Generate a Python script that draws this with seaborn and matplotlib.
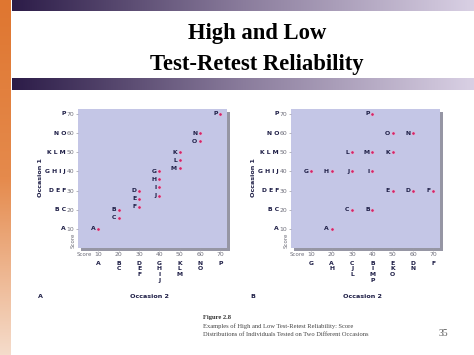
import numpy as np
import matplotlib
matplotlib.use("Agg")
import matplotlib.pyplot as plt
from matplotlib.colors import LinearSegmentedColormap
from matplotlib.patches import Rectangle
import pandas as pd
import seaborn as sns

sns.set_theme(style="white")
plt.rcParams["font.family"] = ["DejaVu Sans"]

students = list("ABCDEFGHIJKLMNOP")
scores = [10, 20, 30, 40, 50, 60, 70]

# panel A - high reliability (same score on both occasions)
occ1_a = [10, 20, 20, 30, 30, 30, 40, 40, 40, 40, 50, 50, 50, 60, 60, 70]
occ2_a = [10, 20, 20, 30, 30, 30, 40, 40, 40, 40, 50, 50, 50, 60, 60, 70]

# panel B - low reliability
occ1_b = [10, 20, 20, 30, 30, 30, 40, 40, 40, 40, 50, 50, 50, 60, 60, 70]
occ2_b = [20, 40, 30, 60, 50, 70, 10, 20, 40, 30, 50, 30, 40, 60, 50, 40]

title_lines = ["High and Low", "Test-Retest Reliability"]
caption = ["Figure 2.8",
           "Examples of High and Low Test-Retest Reliability: Score",
           "Distributions of Individuals Tested on Two Different Occasions"]

BG = "#c4c6e6"
DOT = "#d0246a"
INK = "#1e1e46"
GREY = "#6e6e7a"
W, H = 474, 355

fig = plt.figure(figsize=(W / 100, H / 100), dpi=100)
fig.patch.set_facecolor("white")

# background layer in pixel coords (origin top-left)
bg = fig.add_axes([0, 0, 1, 1], zorder=-1)
bg.axis("off")

purple = LinearSegmentedColormap.from_list("p", ["#2c1c48", "#8a7c9c", "#d9d0e4"])
orange = LinearSegmentedColormap.from_list("o", ["#df7630", "#e58a4c", "#f5dccb"])
grad = np.linspace(0, 1, 256)[None, :]
for y0, y1 in [(0, 11), (78, 90)]:
    bg.imshow(grad, cmap=purple, aspect="auto", extent=(12, W, y1, y0))
bg.imshow(grad.T, cmap=orange, aspect="auto", extent=(0, 11, H, 0))
bg.set_xlim(0, W)
bg.set_ylim(H, 0)

bg.text(257, 39.5, title_lines[0], ha="center", va="baseline", fontsize=16.3,
        fontweight="bold", family="Liberation Serif", color="black")
bg.text(257, 70, title_lines[1], ha="center", va="baseline", fontsize=16.3,
        fontweight="bold", family="Liberation Serif", color="black")

bg.text(203, 318, caption[0], ha="left", va="center", fontsize=4.7,
        fontweight="bold", family="Liberation Serif", color="#333333")
bg.text(203, 326, caption[1], ha="left", va="center", fontsize=4.7,
        family="Liberation Serif", color="#444444")
bg.text(203, 334, caption[2], ha="left", va="center", fontsize=4.7,
        family="Liberation Serif", color="#444444")
bg.text(443, 334, "35", ha="center", va="center", fontsize=7,
        family="Liberation Serif", color="#555555")

panels = [
    (78, occ1_a, occ2_a, True, "A"),
    (291, occ1_b, occ2_b, False, "B"),
]
top, bottom = 109, 248

for left, occ1, occ2, stacked, tag in panels:
    width = 149
    # drop shadow
    bg.add_patch(Rectangle((left + 3, top + 3), width, bottom - top,
                           facecolor="#9696a4", edgecolor="none"))
    ax = fig.add_axes([left / W, (H - bottom) / H, width / W, (bottom - top) / H])

    df = pd.DataFrame({"student": students, "occ1": occ1, "occ2": occ2})
    if stacked:
        df["y"] = df["occ1"] - df.groupby("occ1").cumcount() * 4.2
    else:
        df["y"] = df["occ1"]

    sns.scatterplot(data=df, x="occ2", y="y", ax=ax, s=5, color=DOT,
                    edgecolor="#f0b8d0", linewidth=0.3, zorder=3)
    for _, r in df.iterrows():
        ax.annotate(r["student"], (r["occ2"], r["y"]), xytext=(-2.0, 0),
                    textcoords="offset points", ha="right", va="center",
                    fontsize=4.4, fontweight="bold", color=INK)

    ax.set_xlim(0, 73.2)
    ax.set_ylim(0, 72.6)
    ax.set_facecolor(BG)
    for s in ax.spines.values():
        s.set_visible(False)
    ax.set_xlabel("")
    ax.set_ylabel("")
    ax.set_xticks(scores)
    ax.set_yticks(scores)
    ax.set_xticklabels([str(v) for v in scores])
    ax.set_yticklabels([str(v) for v in scores])
    ax.tick_params(axis="both", length=1.8, width=0.5, color="#9a9aa6",
                   labelsize=4.4, labelcolor=GREY, pad=0.8,
                   bottom=True, left=True)

    # letter groups beside the score ticks
    ygroups = df.groupby("occ1")["student"].apply(lambda s: " ".join(sorted(s)))
    for v, txt in ygroups.items():
        ax.text(-0.08, v, txt, transform=ax.get_yaxis_transform(), ha="right",
                va="center", fontsize=4.4, fontweight="bold", color=INK)
    xgroups = df.groupby("occ2")["student"].apply(lambda s: "\n".join(sorted(s)))
    for v, txt in xgroups.items():
        ax.text(v, -0.09, txt, transform=ax.get_xaxis_transform(), ha="center",
                va="top", fontsize=4.4, fontweight="bold", color=INK,
                linespacing=1.2)

    ax.text(-0.035, 0.055, "Score", transform=ax.transAxes, rotation=90,
            ha="center", va="center", fontsize=4.0, color=GREY)
    ax.text(0.04, -0.045, "Score", transform=ax.transAxes, ha="center",
            va="center", fontsize=4.0, color=GREY)

    bg.text(left - 37, 178, "Occasion 1", rotation=90, ha="center", va="center",
            fontsize=4.6, fontweight="bold", color=INK)
    bg.text(left + 72, 297, "Occasion 2", ha="center", va="center",
            fontsize=4.6, fontweight="bold", color=INK)
    bg.text(left - 38, 297, tag, ha="center", va="center",
            fontsize=4.6, fontweight="bold", color=INK)

fig.savefig("out.png", dpi=100)
plt.close()
